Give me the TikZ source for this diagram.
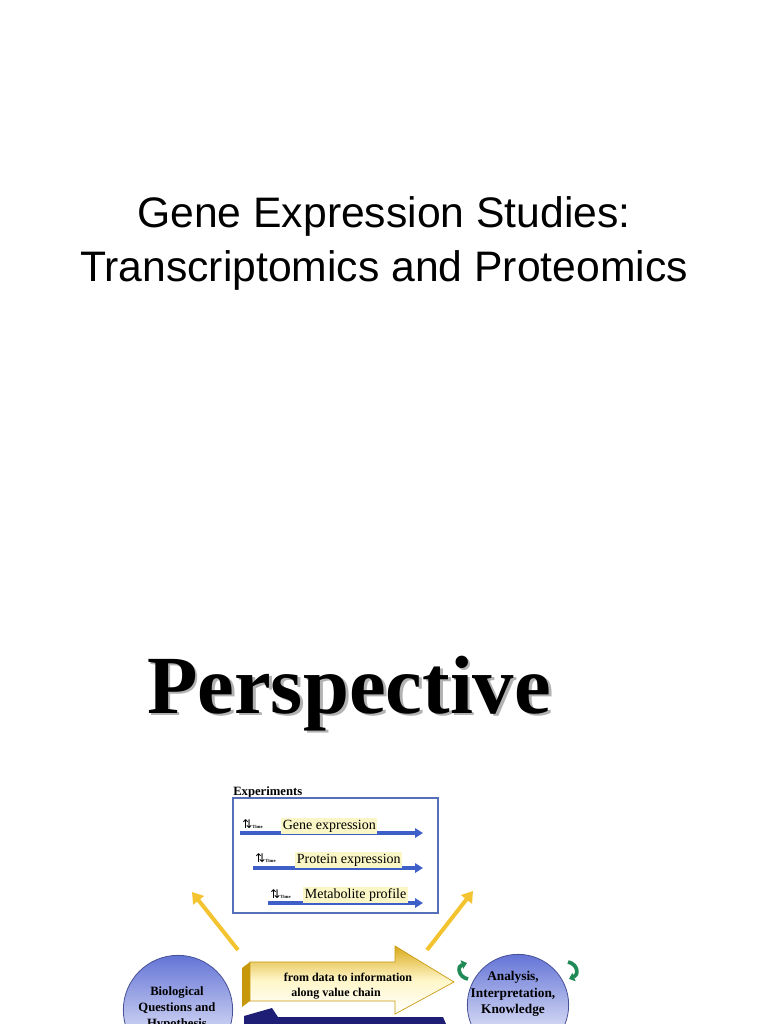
\documentclass[tikz,border=0pt]{standalone}
\usepackage{fontspec}
\setmainfont{Liberation Serif}
\newfontfamily\titlefont{Liberation Sans}
\newfontfamily\symfont{DejaVu Sans}
\usetikzlibrary{arrows.meta}

\definecolor{flowblue}{HTML}{3F5FC8}
\definecolor{boxblue}{HTML}{5570B8}
\definecolor{sungold}{HTML}{F4C430}
\definecolor{darkgold}{HTML}{C8980C}
\definecolor{paleyellow}{HTML}{FFF6C8}
\definecolor{hilite}{HTML}{FBF6C6}
\definecolor{ballblue}{HTML}{6474D6}
\definecolor{navyblue}{HTML}{1E1E76}
\definecolor{loopgreen}{HTML}{1F8A55}

\tikzset{
  titletext/.style={font=\titlefont\fontsize{32}{38}\selectfont, anchor=base, inner sep=0pt},
  flow/.style={line width=3pt, flowblue, -{Triangle[length=6pt,width=7pt]}},
  ray/.style={line width=3pt, sungold, -{Triangle[length=8pt,width=10pt]}},
  exptext/.style={font=\fontsize{10.5}{12}\selectfont, fill=hilite, anchor=base west, inner sep=1.2pt},
  timeicon/.style={anchor=base west, inner sep=0pt},
  ball/.style={circle, minimum size=82pt, inner sep=0pt, draw=ballblue!70!black, line width=0.6pt, top color=ballblue, bottom color=white},
  balltext/.style={font=\bfseries\fontsize{9.5}{12}\selectfont, align=center, inner sep=0pt},
  loop/.style={line width=2.8pt, loopgreen, -{Triangle[length=4pt,width=6.5pt]}}
}
\newcommand{\timemark}{{\symfont\fontsize{9}{9}\selectfont ⇅}{\fontsize{3.5}{4}\selectfont\bfseries Time}}
\newcommand{\shadowed}[1]{\makebox[0pt][l]{\hspace{2.2pt}\raisebox{-2.2pt}{\color{black!30}#1}}#1}

\begin{document}
\begin{tikzpicture}[x=0.75pt, y=-0.75pt]
\clip (0,0) rectangle (768,1024);
\fill[white] (0,0) rectangle (768,1024);

% title
\node[titletext] (title1) at (384,227) {Gene Expression Studies:};
\node[titletext] (title2) at (384,281) {Transcriptomics and Proteomics};

% heading with shadow
\node[anchor=base, inner sep=0pt, font=\bfseries\fontsize{62}{62}\selectfont] (persp) at (349,713) {\shadowed{Perspective}};

% experiments box
\node[anchor=base west, inner sep=0pt, font=\bfseries\fontsize{9.5}{11}\selectfont] (exp) at (233,795) {Experiments};
\draw[boxblue, line width=0.9pt] (233,798) rectangle (438,913);

\coordinate (g0) at (240,833);  \coordinate (g1) at (423,833);
\coordinate (p0) at (253,868);  \coordinate (p1) at (423,868);
\coordinate (m0) at (268,903);  \coordinate (m1) at (423,903);
\draw[flow] (g0) -- (g1);
\draw[flow] (p0) -- (p1);
\draw[flow] (m0) -- (m1);
\node[timeicon] (gtime) at (242,828) {\timemark};
\node[timeicon] (ptime) at (255,862) {\timemark};
\node[timeicon] (mtime) at (270,898) {\timemark};
\node[exptext] (gene) at (281,829) {Gene expression\hspace{6pt}};
\node[exptext] (prot) at (295,863) {Protein expression};
\node[exptext] (meta) at (303,898) {Metabolite profile};

% yellow rays to the box
\coordinate (rayLfoot) at (238,950); \coordinate (rayLtip) at (192,892);
\coordinate (rayRfoot) at (427,950); \coordinate (rayRtip) at (473,891);
\draw[ray] (rayLfoot) -- (rayLtip);
\draw[ray] (rayRfoot) -- (rayRtip);

% big value chain arrow
\fill[darkgold] (242,968) -- (250,962) -- (250,1001) -- (242,1007) -- cycle;
\shade[top color=darkgold!60!sungold, bottom color=white, middle color=paleyellow, draw=darkgold, line width=0.5pt]
  (250,962) -- (395,962) -- (395,946) -- (454,982) -- (395,1014) -- (395,1001) -- (250,1001) -- cycle;
\node[font=\bfseries\fontsize{9}{11}\selectfont, anchor=base] (chain1) at (348,981) {from data to information};
\node[font=\bfseries\fontsize{9}{11}\selectfont, anchor=base] (chain2) at (336,996) {along value chain};

% returning arrow
\fill[navyblue] (244,1024) -- (244,1016) -- (272,1008) -- (278,1017) -- (443,1017) -- (446,1024) -- cycle;

% circles
\node[ball] (bio) at (178,1010) {};
\node[balltext] (biotext) at (177,1008) {Biological\\Questions and\\Hypothesis};
\node[ball, minimum size=76pt] (ana) at (518,1005) {};
\node[balltext, font=\bfseries\fontsize{10}{12.5}\selectfont] (anatext) at (513,994) {Analysis,\\Interpretation,\\Knowledge};

% green loop arrows
\coordinate (lpL0) at (468,979); \coordinate (lpL1) at (467,963);
\coordinate (lpR0) at (568,962); \coordinate (lpR1) at (569,979);
\draw[loop] (lpL0) .. controls (458,977) and (457,966) .. (lpL1);
\draw[loop] (lpR0) .. controls (578,964) and (579,975) .. (lpR1);
\end{tikzpicture}
\end{document}
